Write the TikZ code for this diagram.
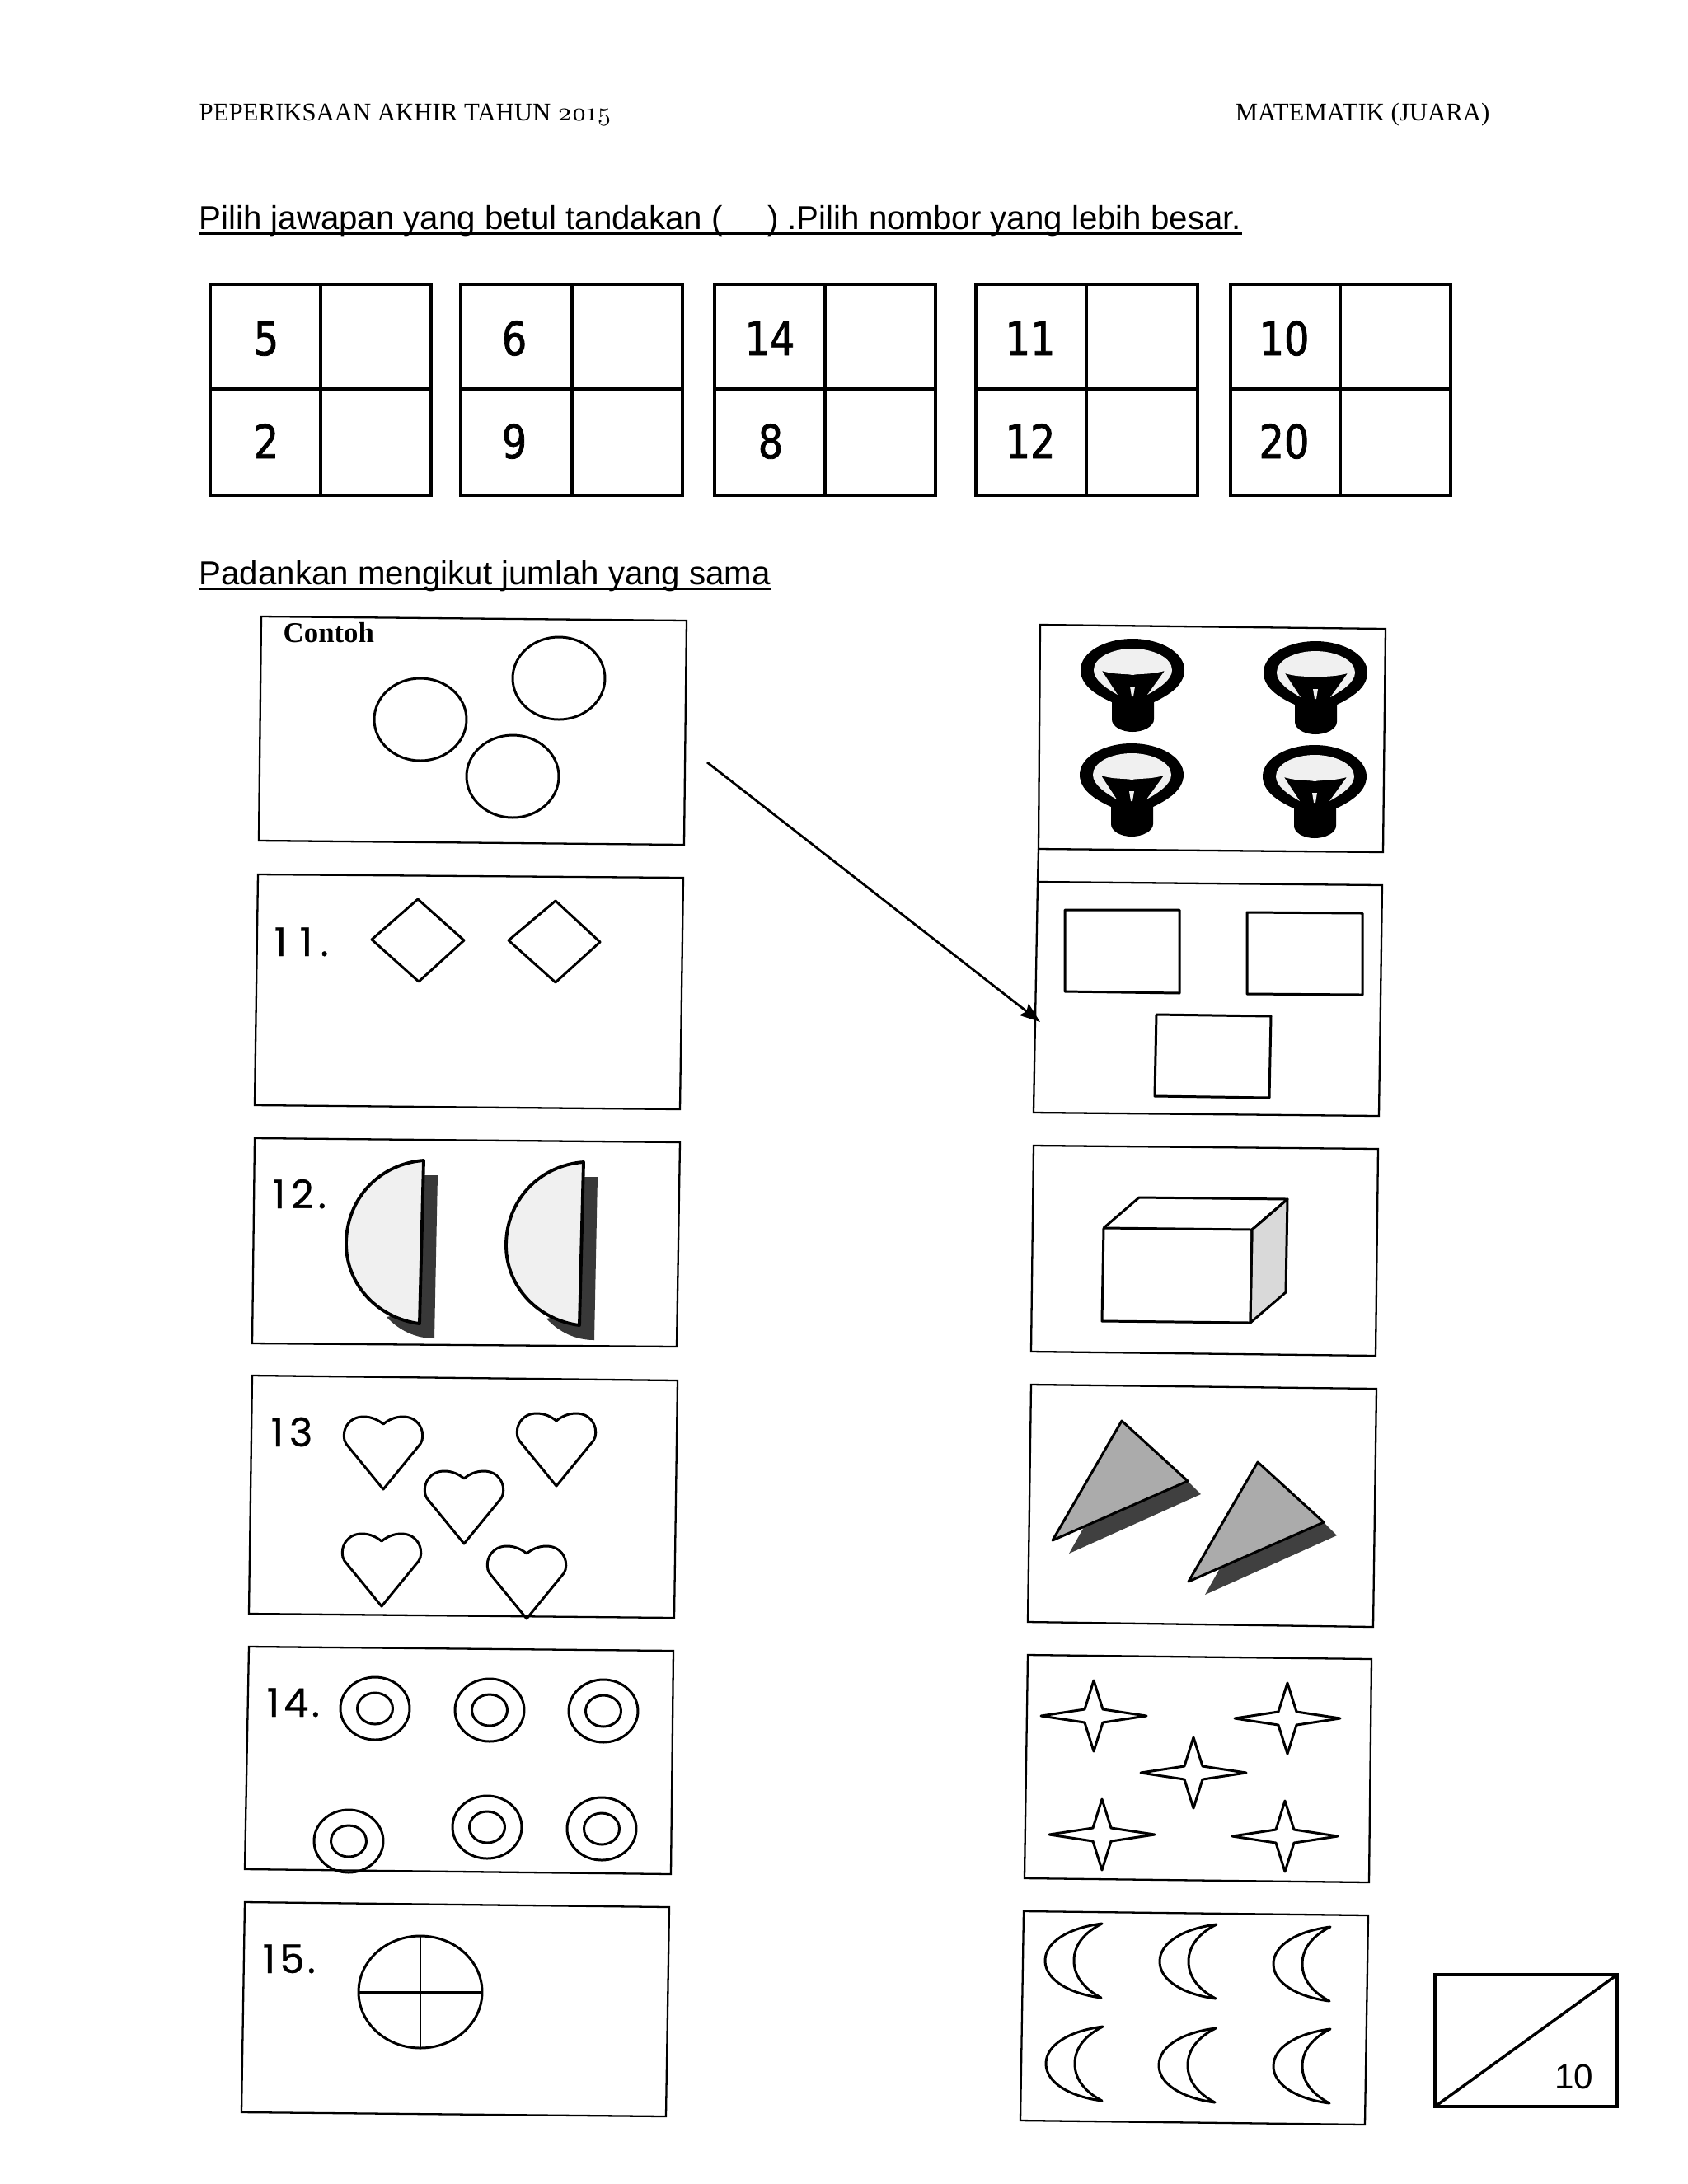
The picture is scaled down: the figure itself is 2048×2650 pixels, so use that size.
\documentclass[tikz,border=0pt]{standalone}
\usepackage{fontspec}
\usetikzlibrary{arrows.meta}
\setmainfont{Liberation Serif}
\setsansfont{Liberation Sans}
\newfontfamily\gridfont[FakeStretch=0.85,FakeBold=1.4]{DejaVu Sans}
\newfontfamily\labelfont[FakeBold=0.6]{Poppins}
\newfontfamily\oldnum[Numbers=OldStyle]{Latin Modern Roman}
\tikzset{
  panel/.style={draw=black,line width=0.65pt},
  figline/.style={draw=black,line width=0.85pt,line join=round},
  tabline/.style={draw=black,line width=1pt},
  headtext/.style={inner sep=0,anchor=base west,font=\rmfamily\fontsize{8.75}{10}\selectfont},
  asktext/.style={inner sep=0,anchor=base west,font=\sffamily\fontsize{11.44}{13}\selectfont},
  numtext/.style={inner sep=0,anchor=base,font=\gridfont\fontsize{16}{18}\selectfont},
  itemtext/.style={inner sep=0,anchor=base west,font=\labelfont\fontsize{13.6}{15}\selectfont},
}
\begin{document}
\begin{tikzpicture}[x=0.01cm,y=-0.01cm,>={Stealth[length=7pt,width=5pt,inset=1pt]}]
  \useasboundingbox[fill=white] (0,0) rectangle (2048,2650);
  % tajuk
  \node[headtext] (headl) at (241,146) {PEPERIKSAAN AKHIR TAHUN {\oldnum 2015}};
  \node[headtext,anchor=base east] (headr) at (1808,146) {MATEMATIK (JUARA)};
  \node[asktext] (ask1) at (241,278) {Pilih jawapan yang betul tandakan (\hspace{15.5pt}) .Pilih nombor yang lebih besar.};
  \draw[line width=0.7pt] ([yshift=-1.6pt]ask1.base west) -- ([yshift=-1.6pt]ask1.base east);
  \node[asktext] (ask2) at (241,709) {Padankan mengikut jumlah yang sama};
  \draw[line width=0.7pt] ([yshift=-1.6pt]ask2.base west) -- ([yshift=-1.6pt]ask2.base east);

  % jadual nombor
  \foreach \a/\b/\c/\p/\q/\u/\v in {255/389/523/5/2/323/323,559/694/828/6/9/624/624,867/1001/1135/14/8/934/935,1184/1318/1453/11/12/1250/1250,1493/1626/1760/10/20/1558/1558}{
    \draw[tabline] (\a,345) rectangle (\c,601);
    \draw[tabline] (\a,472) -- (\c,472);
    \draw[tabline] (\b,345) -- (\b,601);
    \node[numtext] (top\a) at (\u,431) {\p};
    \node[numtext] (bot\a) at (\v,556) {\q};
  }

  % lajur kiri
  \draw[panel] (317,748) -- (833,753) -- (830,1025) -- (314,1020) -- cycle;
  \node[inner sep=0,anchor=base west,font=\rmfamily\bfseries\fontsize{9.9}{11}\selectfont] (contoh) at (343,779) {Contoh};
  \foreach \x/\y in {510/873,678/823,622/942}
    \draw[figline] (\x,\y) ellipse [x radius=56,y radius=50];

  \draw[panel] (313,1061) -- (829,1065) -- (825,1346) -- (309,1341) -- cycle;
  \node[itemtext] (no11) at (332,1160) {1\kern4.5pt1\kern2.7pt.};
  \draw[figline] (507,1091) -- (563,1141) -- (508,1191) -- (451,1140) -- cycle;
  \draw[figline] (674,1093) -- (728,1143) -- (674,1192) -- (617,1141) -- cycle;

  \draw[panel] (309,1381) -- (825,1386) -- (821,1634) -- (306,1630) -- cycle;
  \node[itemtext] (no12) at (330,1466) {1\kern2pt2\kern1.5pt.};
  \foreach \dx/\dy in {0/0,194/2}{
    \begin{scope}[shift={(\dx,\dy)}]
      \fill[black!78] (515,1426) -- (531,1426) -- (527,1624) .. controls (505,1624) and (485,1615) .. (469,1598) -- (509,1590) -- cycle;
      \draw[figline,line width=1.1pt,fill=black!6] (514,1408) .. controls (460,1412) and (420,1455) .. (420,1509) .. controls (420,1560) and (460,1600) .. (509,1606) -- cycle;
    \end{scope}
  }

  \draw[panel] (306,1669) -- (822,1675) -- (818,1963) -- (302,1958) -- cycle;
  \node[itemtext] (no13) at (328,1755) {1\kern2pt3};
  \foreach \x/\y in {465/1728,675/1724,563/1794,463/1870,639/1885}
    \draw[figline,shift={(\x,\y)}] (0,79) -- (-45,24) .. controls (-52,14) and (-46,-9) .. (-24,-9) .. controls (-14,-9) and (-6,-5) .. (0,0) .. controls (6,-5) and (14,-9) .. (24,-9) .. controls (46,-9) and (52,14) .. (45,24) -- cycle;

  \draw[panel] (302,1998) -- (817,2003) -- (814,2274) -- (297,2268) -- cycle;
  \node[itemtext] (no14) at (323,2083) {1\kern1.5pt4\kern1pt.};
  \foreach \x/\y in {455/2073,594/2075,732/2076,423/2234,591/2217,730/2219}{
    \draw[figline] (\x,\y) ellipse [x radius=42,y radius=38];
    \draw[figline] (\x,\y) ellipse [x radius=21.5,y radius=19];
  }

  \draw[panel] (297,2308) -- (812,2314) -- (808,2568) -- (293,2563) -- cycle;
  \node[itemtext] (no15) at (318,2394) {1\kern1.5pt5\kern1pt.};
  \draw[figline] (510,2417) ellipse [x radius=75,y radius=68];
  \draw[figline] (435,2417) -- (585,2417);
  \draw[figline] (510,2349) -- (510,2485);

  % lajur kanan
  \draw[panel] (1262,758) -- (1681,763) -- (1678,1034) -- (1260,1030) -- cycle;
  \draw[panel] (1260,1030) -- (1259,1070);
  \foreach \x/\y in {1374/813,1596/816,1373/940,1595/942}{
    \begin{scope}[shift={(\x,\y)}]
      \fill[black] (-25,39) .. controls (-45,30) and (-63,18) .. (-63,0) .. controls (-63,-22) and (-33,-38) .. (0,-38) .. controls (33,-38) and (63,-22) .. (63,0) .. controls (63,18) and (45,30) .. (26,39) -- (26,60) .. controls (26,68) and (14,75) .. (0,75) .. controls (-14,75) and (-25,68) .. (-25,60) -- cycle;
      \fill[black!6] (-18,30) .. controls (-32,22) and (-47,12) .. (-47,0) .. controls (-47,-15) and (-25,-26) .. (0,-26) .. controls (25,-26) and (48,-15) .. (48,0) .. controls (48,12) and (32,22) .. (18,30) -- (39,1) .. controls (20,6) and (10,4) .. (0,6) .. controls (-10,4) and (-20,6) .. (-37,1) -- cycle;
      \fill[black!6] (-3,20) -- (3,20) -- (1,32) -- (-1,32) -- cycle;
    \end{scope}
  }

  \draw[panel] (1259,1070) -- (1677,1074) -- (1673,1354) -- (1254,1350) -- cycle;
  \draw[figline] (1292,1104) -- (1431,1104) -- (1431,1205) -- (1292,1203) -- cycle;
  \draw[figline] (1513,1107) -- (1653,1108) -- (1653,1207) -- (1513,1206) -- cycle;
  \draw[figline] (1403,1231) -- (1542,1233) -- (1540,1332) -- (1401,1330) -- cycle;

  \draw[panel] (1254,1390) -- (1672,1394) -- (1669,1645) -- (1251,1640) -- cycle;
  \draw[figline,fill=black!15] (1519,1492) -- (1562,1455) -- (1560,1568) -- (1517,1605) -- cycle;
  \draw[figline] (1339,1490) -- (1519,1492) -- (1517,1605) -- (1337,1603) -- cycle;
  \draw[figline] (1339,1490) -- (1382,1453) -- (1562,1455) -- (1519,1492);

  \draw[panel] (1251,1680) -- (1670,1685) -- (1666,1974) -- (1247,1968) -- cycle;
  \foreach \dx/\dy in {0/0,165/50}{
    \begin{scope}[shift={(\dx,\dy)}]
      \fill[black!75] (1441,1797) -- (1457,1813) -- (1297,1885) -- (1315,1853) -- cycle;
      \draw[figline,fill=black!33] (1361,1724) -- (1441,1797) -- (1277,1869) -- cycle;
    \end{scope}
  }

  \draw[panel] (1247,2008) -- (1664,2013) -- (1661,2284) -- (1243,2279) -- cycle;
  \foreach \x/\y in {1327/2082,1562/2085,1448/2151,1337/2226,1559/2228}
    \draw[figline,shift={(\x,\y)}] (-64,0) -- (-11,-8) -- (0,-43) -- (11,-8) -- (64,0) -- (11,8) -- (0,43) -- (-11,8) -- cycle;

  \draw[panel] (1242,2319) -- (1660,2324) -- (1656,2578) -- (1238,2573) -- cycle;
  \foreach \x/\y in {1337/2334,1476/2335,1614/2338,1338/2459,1475/2461,1614/2462}
    \draw[figline,shift={(\x,\y)}] (0,0) .. controls (-40,5) and (-69,22) .. (-69,45) .. controls (-69,68) and (-40,85) .. (-1,90) .. controls (-20,80) and (-34,65) .. (-34,45) .. controls (-34,25) and (-20,10) .. (0,0) -- cycle;

  % anak panah contoh
  \coordinate (arrowstart) at (858,925);
  \coordinate (arrowend) at (1262,1240);
  \draw[->,line width=0.8pt] (arrowstart) -- (arrowend);

  % kotak markah
  \draw[tabline] (1741,2396) rectangle (1962,2556);
  \draw[tabline] (1741,2556) -- (1962,2396);
  \node[inner sep=0,anchor=base east,font=\sffamily\fontsize{12}{14}\selectfont] (mark) at (1934,2534) {10};
\end{tikzpicture}
\end{document}
